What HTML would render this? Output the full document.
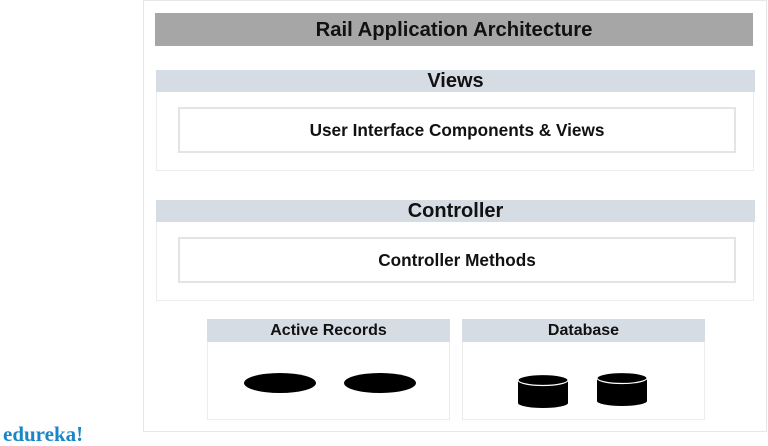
<!DOCTYPE html>
<html><head><style>
body{margin:0;width:768px;height:446px;background:#fff;position:relative;overflow:hidden;font-family:"Liberation Sans",sans-serif;}
div{position:absolute;box-sizing:border-box;}
.t{display:flex;align-items:center;justify-content:center;font-weight:bold;color:#111;}
.box{border:1px solid #ececec;}
.hdr{background:#d6dce4;}
.inner{border:2px solid #e4e4e4;background:#fff;}
</style></head><body>
<div style="left:143px;top:0;width:624px;height:432px;border:1px solid #e6e6e6;"></div>
<div class="t" style="left:155px;top:13px;width:598px;height:33px;background:#a6a6a6;font-size:20.3px;padding-top:2px;">Rail Application Architecture</div>

<div class="box" style="left:156px;top:70px;width:598px;height:101px;"></div>
<div class="t hdr" style="left:156px;top:70px;width:599px;height:22px;font-size:20px;">Views</div>
<div class="t inner" style="left:178px;top:107px;width:558px;height:46px;font-size:17.2px;">User Interface Components &amp; Views</div>

<div class="box" style="left:156px;top:200px;width:598px;height:101px;"></div>
<div class="t hdr" style="left:156px;top:200px;width:599px;height:22px;font-size:20px;">Controller</div>
<div class="t inner" style="left:178px;top:237px;width:558px;height:46px;font-size:17.2px;">Controller Methods</div>

<div class="box" style="left:207px;top:319px;width:243px;height:101px;"></div>
<div class="t hdr" style="left:207px;top:319px;width:243px;height:23px;font-size:16px;">Active Records</div>
<div class="box" style="left:462px;top:319px;width:243px;height:101px;"></div>
<div class="t hdr" style="left:462px;top:319px;width:243px;height:23px;font-size:16px;">Database</div>

<svg style="position:absolute;left:0;top:0" width="768" height="446">
<ellipse cx="280" cy="383" rx="36" ry="10" fill="#000"/>
<ellipse cx="380" cy="383" rx="36" ry="10" fill="#000"/>
<g>
<path d="M518 380 L518 403 A25 5 0 0 0 568 403 L568 380 Z" fill="#000"/>
<ellipse cx="543" cy="380" rx="25" ry="5.5" fill="#000" stroke="#fff" stroke-width="1.2"/>
<path d="M597 378 L597 401 A25 5 0 0 0 647 401 L647 378 Z" fill="#000"/>
<ellipse cx="622" cy="378" rx="25" ry="5.5" fill="#000" stroke="#fff" stroke-width="1.2"/>
</g>
</svg>
<div style="left:3px;top:423px;font-family:'Liberation Serif',serif;font-weight:bold;font-size:21px;color:#1a86c6;line-height:22px;">edureka!</div>
</body></html>
